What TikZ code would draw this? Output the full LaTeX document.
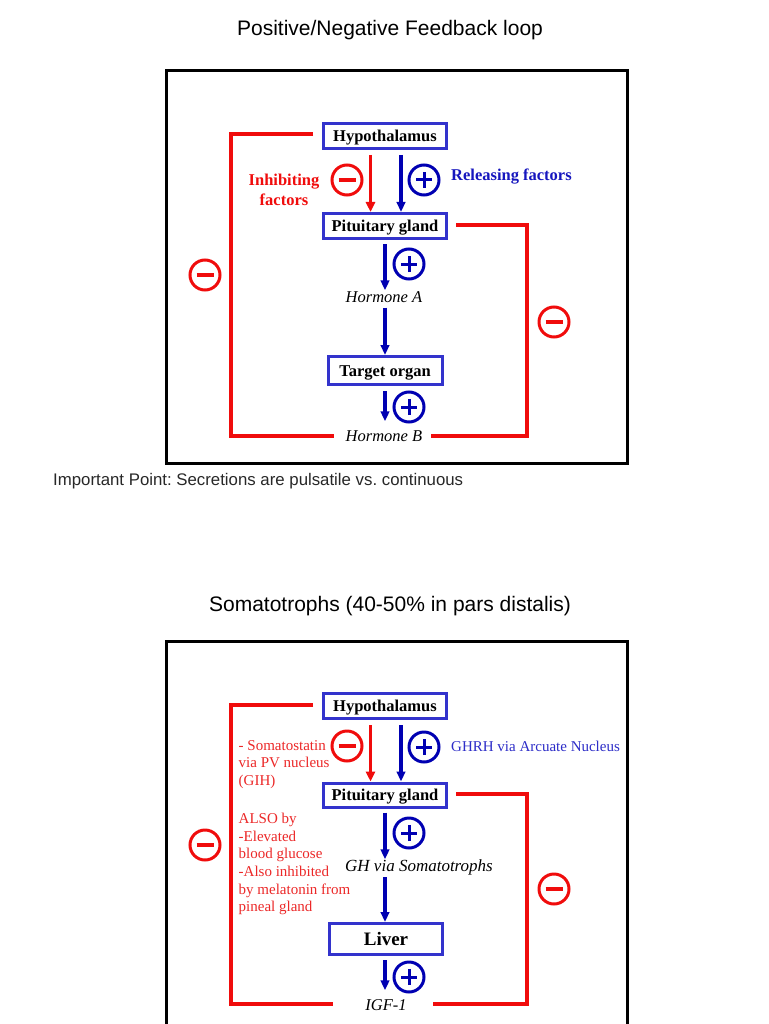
\documentclass[tikz,border=0pt]{standalone}
\usepackage{fontspec}
\setmainfont{Liberation Serif}
\newfontfamily\arialfont{Liberation Sans}
\usetikzlibrary{arrows.meta}
\frenchspacing
\definecolor{fbred}{RGB}{240,12,12}
\definecolor{txtred}{RGB}{236,40,40}
\definecolor{boxblue}{RGB}{51,51,204}
\definecolor{arrblue}{RGB}{0,0,178}
\definecolor{txtblue}{RGB}{22,22,190}
\definecolor{ghrhblue}{RGB}{45,45,200}
\definecolor{notegray}{RGB}{40,40,40}
\tikzset{
  frame/.style={draw=black, line width=3pt},
  organ/.style={draw=boxblue, line width=3pt, fill=white, inner sep=0pt, text height=11.5pt, text depth=0.5pt, font=\fontsize{16.5}{18}\selectfont\bfseries},
  hormone/.style={inner sep=0pt, font=\fontsize{16.5}{18}\selectfont\itshape, text height=11.5pt, text depth=3.5pt},
  fbline/.style={draw=fbred, line width=3.2pt, line join=miter},
  redarrow/.style={draw=fbred, line width=3pt, -{Triangle[length=10pt,width=9pt]}},
  bluearrow/.style={draw=arrblue, line width=3.2pt, -{Triangle[length=10pt,width=8.5pt]}},
  negring/.style={circle, draw=fbred, line width=3pt, minimum size=30pt, inner sep=0pt},
  posring/.style={circle, draw=arrblue, line width=3pt, minimum size=30pt, inner sep=0pt},
  titletext/.style={font=\arialfont\fontsize{21}{24}\selectfont, inner sep=0pt},
}
\newcommand{\negsym}[2]{\node[negring] (#1) at (#2) {};
  \draw[fbred, line width=3.3pt] ([xshift=-8.5pt]#1.center) -- ([xshift=8.5pt]#1.center);}
\newcommand{\possym}[2]{\node[posring] (#1) at (#2) {};
  \draw[arrblue, line width=3pt] ([xshift=-8pt]#1.center) -- ([xshift=8pt]#1.center)
    ([yshift=-8pt]#1.center) -- ([yshift=8pt]#1.center);}
\begin{document}
\begin{tikzpicture}[x=1pt, y=-1pt]
\useasboundingbox (0,0) rectangle (768,1024);
\fill[white] (0,0) rectangle (768,1024);

% ================= TOP DIAGRAM =================
\node[titletext] (t1) at (390,30) {Positive/Negative Feedback loop};
\draw[frame] (166.5,71) rectangle (627,463.5);

\node[organ, minimum width=123pt, minimum height=25pt] (hyp1) at (385,136) {Hypothalamus};
\node[organ, minimum width=123pt, minimum height=25pt] (pit1) at (385,226) {Pituitary gland};
\node[organ, minimum width=114pt, minimum height=28pt] (tar1) at (385,370.5) {Target organ};
\node[hormone] (ha1) at (384,298) {Hormone A};
\node[hormone] (hb1) at (384,437) {Hormone B};

\draw[redarrow] ([shift={(-14.5,5)}]hyp1.south) -- ([xshift=-14.5]pit1.north);
\draw[bluearrow] ([shift={(16,5)}]hyp1.south) -- ([xshift=16]pit1.north);
\negsym{n1a}{347,180}
\possym{p1a}{424,180}

\node[align=center, text=fbred, font=\fontsize{16.5}{20}\selectfont\bfseries, inner sep=0pt] (inh1) at (284,190) {Inhibiting\\factors};
\node[anchor=west, text=txtblue, font=\fontsize{16.5}{18}\selectfont\bfseries, inner sep=0pt] (rel1) at (451,177) {Releasing factors};

\draw[bluearrow] ([yshift=-4]pit1.south) -- (pit1.south |- ha1.north);
\possym{p1b}{409,264}
\draw[bluearrow] ([yshift=-2]ha1.south -| tar1.north) -- (tar1.north);
\draw[bluearrow] ([yshift=-5]tar1.south) -- ([yshift=8]tar1.south |- hb1.north);
\possym{p1c}{409,407}

\draw[fbline] ([shift={(-9,-2)}]hyp1.west) -- (231,134) -- (231,436) -- ([xshift=-12]hb1.west |- 0,436);
\draw[fbline] ([xshift=8]pit1.east |- 0,225) -- (527,225) -- (527,436) -- ([xshift=9]hb1.east |- 0,436);
\negsym{n1b}{205,275}
\negsym{n1c}{554,322}

\node[anchor=west, text=notegray, font=\arialfont\fontsize{16.8}{19}\selectfont, inner sep=0pt] (note) at (53,481) {Important Point: Secretions are pulsatile vs. continuous};

% ================= BOTTOM DIAGRAM =================
\node[titletext] (t2) at (390,606) {Somatotrophs (40-50\% in pars distalis)};
\draw[frame] (166.5,1040) -- (166.5,641) -- (627,641) -- (627,1040);

\node[organ, minimum width=123pt, minimum height=25pt] (hyp2) at (385,706) {Hypothalamus};
\node[organ, minimum width=123pt, minimum height=24pt] (pit2) at (385,795) {Pituitary gland};
\node[organ, minimum width=113pt, minimum height=31pt, text height=13pt, text depth=1pt, font=\fontsize{19}{21}\selectfont\bfseries] (liv2) at (386,939) {Liver};
\node[hormone, font=\fontsize{17}{19}\selectfont\itshape] (gh2) at (419,867) {GH via Somatotrophs};
\node[hormone] (igf2) at (386,1006) {IGF-1};

\draw[redarrow] ([shift={(-14.5,5)}]hyp2.south) -- ([xshift=-14.5]pit2.north);
\draw[bluearrow] ([shift={(16,5)}]hyp2.south) -- ([xshift=16]pit2.north);
\negsym{n2a}{347,746}
\possym{p2a}{424,747}

\node[anchor=west, text=ghrhblue, font=\fontsize{15}{17}\selectfont, inner sep=0pt] (ghrh2) at (451,746) {GHRH via Arcuate Nucleus};
\node[anchor=north west, align=left, text=txtred, font=\fontsize{15}{17.7}\selectfont, inner sep=0pt] (som2) at (238.5,740) {- Somatostatin\\via PV nucleus\\(GIH)};
\node[anchor=north west, align=left, text=txtred, font=\fontsize{15}{17.6}\selectfont, inner sep=0pt] (also2) at (238.5,813) {ALSO by\\-Elevated\\blood glucose\\-Also inhibited\\by melatonin from\\pineal gland};

\draw[bluearrow] ([yshift=-4]pit2.south) -- (pit2.south |- gh2.north);
\possym{p2b}{409,833}
\draw[bluearrow] ([yshift=-2.5]gh2.south -| pit2.south) -- (pit2.south |- liv2.north);
\draw[bluearrow] ([yshift=-4]liv2.south -| pit2.south) -- ([yshift=8]pit2.south |- igf2.north);
\possym{p2c}{409,977}

\draw[fbline] ([shift={(-9,-1)}]hyp2.west) -- (231,705) -- (231,1004) -- ([shift={(-53,-2)}]igf2.center);
\draw[fbline] ([xshift=8]pit2.east |- 0,794) -- (527,794) -- (527,1004) -- ([shift={(47,-2)}]igf2.center);
\negsym{n2b}{205,845}
\negsym{n2c}{554,889}
\end{tikzpicture}
\end{document}
